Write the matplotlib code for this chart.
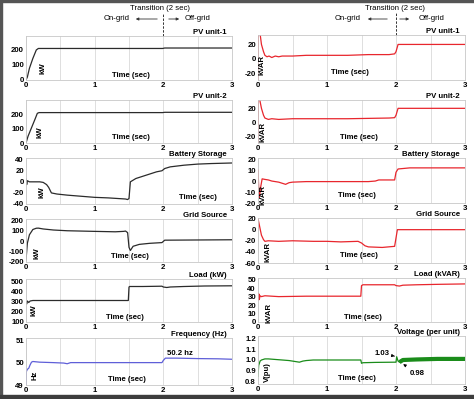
import matplotlib
matplotlib.use("Agg")
import matplotlib.pyplot as plt
from matplotlib.patches import Rectangle, FancyArrowPatch

plt.rcParams['font.family'] = ['Liberation Sans Narrow', 'Liberation Sans', 'DejaVu Sans']
plt.rcParams['axes.unicode_minus'] = False

W, H = 474, 399

# ---------------- data ----------------
x_ticks = [0, 1, 2, 3]

# Left column (active power, kW)
pv1_kw_t = [0, 0.02, 0.05, 0.1, 0.15, 0.18, 0.5, 1.0, 1.5, 1.99, 2.02, 2.5, 3.0]
pv1_kw_v = [0, 20, 78, 144, 200, 210, 210, 210, 210, 210, 213, 213, 213]

pv2_kw_t = [0, 0.03, 0.08, 0.13, 0.165, 0.19, 0.5, 1.0, 1.5, 1.99, 2.02, 2.5, 3.0]
pv2_kw_v = [0, 47, 105, 163, 205, 210, 210, 210, 210, 210, 212, 212, 212]

bat_kw_t = [0, 0.01, 0.02, 0.05, 0.1, 0.2, 0.25, 0.3, 0.33, 0.35, 0.37, 0.45, 0.6, 0.8, 1.0,
            1.2, 1.45, 1.48, 1.5, 1.52, 1.6, 1.7, 1.8, 1.9, 1.98, 2.02, 2.1, 2.3, 2.5, 2.7, 3.0]
bat_kw_v = [5, -5, 2, 0, 0, 0, -1, -5, -10, -15, -20, -22, -24, -26, -28,
            -29, -31, -32, -30, 0, 6, 10, 14, 18, 20, 24, 27, 30, 32, 33, 34]

grid_kw_t = [0, 0.02, 0.05, 0.1, 0.15, 0.18, 0.25, 0.4, 0.6, 1.0, 1.3, 1.42, 1.45, 1.48,
             1.5, 1.52, 1.56, 1.65, 1.8, 1.98, 2.02, 2.5, 3.0]
grid_kw_v = [-180, -20, 60, 110, 122, 123, 115, 105, 98, 92, 88, 92, 95, 80,
             -60, -90, -50, -32, -22, -15, 8, 10, 12]

load_kw_t = [0, 0.01, 0.02, 0.04, 0.06, 0.1, 0.5, 1.0, 1.49, 1.5, 1.51, 1.7, 1.98, 2.0,
             2.05, 2.1, 2.3, 2.6, 3.0]
load_kw_v = [290, 270, 300, 285, 300, 305, 305, 305, 305, 440, 445, 445, 448, 440,
             435, 440, 445, 450, 452]

freq_t = [0, 0.005, 0.02, 0.04, 0.06, 0.08, 0.1, 0.2, 0.4, 0.55, 0.6, 0.65, 0.8, 1.0,
          1.5, 1.98, 2.0, 2.03, 2.2, 2.5, 2.8, 3.0]
freq_v = [49.0, 49.6, 49.7, 49.75, 49.9, 50.02, 50.05, 50.02, 50.0, 49.98, 49.95, 50.0,
          50.0, 50.0, 50.0, 50.0, 50.1, 50.2, 50.2, 50.18, 50.17, 50.15]

# Right column (reactive power, kVAR)
pv1_kvar_t = [0, 0.005, 0.015, 0.03, 0.05, 0.08, 0.1, 0.13, 0.16, 0.2, 0.25, 0.3, 0.35, 0.5,
              0.7, 1.0, 1.3, 1.6, 1.9, 1.98, 2.0, 2.03, 2.2, 2.5, 3.0]
pv1_kvar_v = [-30, 40, 45, 35, 20, 10, 5, 3, 4, 2, 4, 3, 4, 4,
              5, 5, 5, 6, 6, 7, 10, 20, 20, 20, 20]

pv2_kvar_t = [0, 0.005, 0.015, 0.03, 0.05, 0.08, 0.1, 0.15, 0.2, 0.3, 0.5, 0.7, 1.0, 1.3,
              1.6, 1.9, 1.98, 2.0, 2.03, 2.2, 2.5, 3.0]
pv2_kvar_v = [-30, 40, 45, 30, 20, 10, 6, 4, 5, 4, 5, 5, 5, 5,
              5.5, 6, 6.5, 10, 20, 20, 20, 20]

bat_kvar_t = [0, 0.01, 0.02, 0.04, 0.06, 0.1, 0.15, 0.2, 0.3, 0.35, 0.4, 0.45, 0.5, 0.7,
              1.0, 1.3, 1.6, 1.7, 1.75, 1.98, 2.0, 2.03, 2.2, 2.5, 3.0]
bat_kvar_v = [10, -5, -15, -5, 2, 1.5, 1, 0, -1, -2, -3, -1.5, -1, -0.5,
              -0.5, -0.5, -0.5, 0, 1, 1, 8, 11, 12, 12, 12]

grid_kvar_t = [0, 0.02, 0.05, 0.08, 0.1, 0.15, 0.3, 0.5, 0.8, 1.0, 1.2, 1.45, 1.5, 1.55,
               1.6, 1.8, 1.98, 2.0, 2.02, 2.5, 3.0]
grid_kvar_v = [20, 8, -10, -18, -21, -20, -21, -20, -21, -21, -22, -21, -24, -29,
               -31, -32, -30, -15, 0, 0, 0]

load_kvar_t = [0, 0.005, 0.01, 0.015, 0.02, 0.03, 0.05, 0.1, 0.3, 0.7, 1.0, 1.49, 1.5, 1.52,
               1.8, 1.98, 2.0, 2.05, 2.1, 2.3, 2.6, 3.0]
load_kvar_v = [28, 34, 26, 33, 27, 31, 30, 31, 30, 30.5, 30.5, 30.5, 43, 44,
               44, 44, 43, 42.5, 43.5, 44, 44.5, 45]

volt_t = [0, 0.01, 0.03, 0.05, 0.1, 0.15, 0.25, 0.35, 0.45, 0.5, 0.55, 0.6, 0.65, 0.7,
          0.8, 1.0, 1.3, 1.49, 1.5, 1.52, 1.7, 1.98, 2.0, 2.01, 2.03, 2.05]
volt_v = [0.85, 0.95, 0.99, 1.0, 1.01, 1.01, 1.005, 1.0, 0.995, 0.99, 0.985, 0.98, 0.99, 0.995,
          1.0, 1.0, 1.0, 1.0, 0.97, 0.975, 0.978, 0.98, 0.98, 1.03, 0.99, 0.98]
volt_band_t = [2.05, 2.1, 2.3, 2.6, 3.0]
volt_band_v = [0.98, 1.0, 1.005, 1.01, 1.01]

# ---------------- layout ----------------
fig = plt.figure(figsize=(W / 100, H / 100), dpi=100)
fig.patch.set_facecolor('white')

def add_ax(x0, y0, x1, y1):
    return fig.add_axes([x0 / W, 1 - y1 / H, (x1 - x0) / W, (y1 - y0) / H])

BLK = '#2b2b2b'
RED = '#e8262d'
BLU = '#5f5fd8'
GRN = '#1a8c1a'
FS = 5.6

panels = [
    # (box, t, v, color, ylim, yticks, title, unit, unit_pos, time_pos)
    ((26, 36, 232, 80), pv1_kw_t, pv1_kw_v, BLK, (0, 293), [0, 100, 200], 'PV unit-1', 'kW', (0.25, 0.27), (1.53, 0.11)),
    ((26, 100, 232, 143), pv2_kw_t, pv2_kw_v, BLK, (0, 297), [0, 100, 200], 'PV unit-2', 'kW', (0.2, 0.26), (1.53, 0.12)),
    ((26, 158, 232, 204), bat_kw_t, bat_kw_v, BLK, (-40, 43), [-40, -20, 0, 20, 40], 'Battery Storage', 'kW', (0.23, 0.26), (2.5, 0.15)),
    ((26, 219, 232, 262), grid_kw_t, grid_kw_v, BLK, (-200, 210), [-200, -100, 0, 100, 200], 'Grid Source', 'kW', (0.16, 0.21), (1.51, 0.12)),
    ((26, 279, 232, 322), load_kw_t, load_kw_v, BLK, (90, 520), [100, 200, 300, 400, 500], 'Load (kW)', 'kW', (0.12, 0.28), (1.44, 0.1)),
    ((26, 338, 232, 385), freq_t, freq_v, BLU, (49, 51.1), [49, 50, 51], 'Frequency (Hz)', 'Hz', (0.13, 0.21), (1.47, 0.11)),
    ((258, 35, 465, 80), pv1_kvar_t, pv1_kvar_v, RED, (-29, 33), [-20, 0, 20], 'PV unit-1', 'kVAR', (0.06, 0.33), (1.33, 0.17)),
    ((258, 100, 465, 143), pv2_kvar_t, pv2_kvar_v, RED, (-30, 32), [-20, 0, 20], 'PV unit-2', 'kVAR', (0.07, 0.26), (1.46, 0.12)),
    ((258, 158, 465, 203), bat_kvar_t, bat_kvar_v, RED, (-20, 21), [-20, -10, 0, 10, 20], 'Battery Storage', 'kVAR', (0.07, 0.18), (1.43, 0.16)),
    ((258, 218, 465, 263), grid_kvar_t, grid_kvar_v, RED, (-60, 21), [-60, -40, -20, 0, 20], 'Grid Source', 'kVAR', (0.14, 0.24), (1.46, 0.16)),
    ((258, 278, 465, 322), load_kvar_t, load_kvar_v, RED, (0, 52), [0, 10, 20, 30, 40, 50], 'Load (kVAR)', 'kVAR', (0.16, 0.2), (1.52, 0.1)),
    ((258, 336, 465, 384), volt_t, volt_v, GRN, (0.78, 1.22), [0.8, 0.9, 1.0, 1.1, 1.2], 'Voltage (per unit)', 'V(pu)', (0.13, 0.25), (1.43, 0.12)),
]

axes = []
for box, t, v, col, ylim, yt, title, unit, upos, tpos in panels:
    ax = add_ax(*box)
    axes.append(ax)
    ax.plot(t, v, color=col, lw=0.9, clip_on=True)
    ax.set_xlim(0, 3)
    ax.set_ylim(*ylim)
    ax.set_xticks(x_ticks)
    ax.set_yticks(yt)
    if title.startswith('Voltage'):
        ax.set_yticklabels([f'{y:.1f}' for y in yt])
    ax.set_xticks([0.5, 1.5, 2.5], minor=True)
    ax.grid(True, axis='x', which='both', color='#d9d9d9', lw=0.6)
    ax.tick_params(axis='both', which='both', length=0, labelsize=FS, pad=1.5)
    for lab in ax.get_xticklabels() + ax.get_yticklabels():
        lab.set_fontweight('bold')
    for s in ax.spines.values():
        s.set_color('#c8c8c8')
        s.set_linewidth(0.6)
    ax.text(0.975, 1.01, title, transform=ax.transAxes, ha='right', va='bottom',
            fontsize=FS, fontweight='bold')
    ax.text(upos[0], upos[1], unit, transform=ax.get_xaxis_transform(), rotation=90,
            ha='center', va='center', fontsize=FS, fontweight='bold')
    ax.text(tpos[0], tpos[1], 'Time (sec)', transform=ax.get_xaxis_transform(),
            ha='center', va='center', fontsize=FS, fontweight='bold')

# voltage oscillation band after the transition
axv = axes[11]
axv.plot(volt_band_t, volt_band_v, color=GRN, lw=3.0, solid_capstyle='butt')
axv.annotate('1.03', xy=(2.02, 1.03), xytext=(1.9, 1.06), fontsize=FS, fontweight='bold',
             ha='right', va='center',
             arrowprops=dict(arrowstyle='-|>', color='black', lw=0.6, mutation_scale=4))
axv.annotate('0.98', xy=(2.07, 0.975), xytext=(2.2, 0.88), fontsize=FS, fontweight='bold',
             ha='left', va='center',
             arrowprops=dict(arrowstyle='-|>', color='black', lw=0.6, mutation_scale=4))

# frequency label
axes[5].text(2.05, 50.42, '50.2 hz', fontsize=FS, fontweight='bold', ha='left', va='center')

# transition markers above top panels
def fx(x):
    return x / W

def fy(y):
    return 1 - y / H

for ax, cx, on_r, la, ra, off_l in [
        (axes[0], 160, 130, (160, 133), (166, 182), 185),
        (axes[6], 395, 361, (390, 365), (397, 412), 419)]:
    ax.plot([2, 2], [1.0, 1.52], transform=ax.get_xaxis_transform(), clip_on=False,
            ls=(0, (2.5, 1.5)), color='#333333', lw=0.7)
    fig.text(fx(cx), fy(9), 'Transition (2 sec)', ha='center', va='center', fontsize=FS)
    fig.text(fx(on_r), fy(19), 'On-grid', ha='right', va='center', fontsize=FS)
    fig.text(fx(off_l), fy(19), 'Off-grid', ha='left', va='center', fontsize=FS)
    for a, b in [la, ra]:
        fig.add_artist(FancyArrowPatch((fx(a), fy(19)), (fx(b), fy(19)),
                                       transform=fig.transFigure, arrowstyle='-|>',
                                       mutation_scale=4, lw=0.6, color='#333333'))

# picture frame
fig.add_artist(Rectangle((0, 0), 2 / W, 1, transform=fig.transFigure, color='#555555', zorder=20))
fig.add_artist(Rectangle((0, 1 - 1.5 / H), 1, 1.5 / H, transform=fig.transFigure, color='#555555', zorder=20))
fig.add_artist(Rectangle((0, 0), 1, 4 / H, transform=fig.transFigure, color='#3d3d3d', zorder=20))

fig.savefig('out.png', dpi=100)
